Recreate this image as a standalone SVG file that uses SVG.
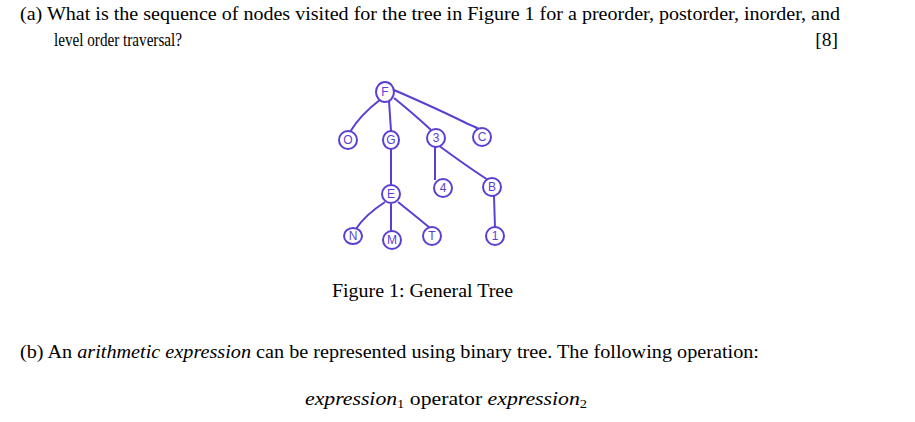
<svg xmlns="http://www.w3.org/2000/svg" width="915" height="422" viewBox="0 0 915 422">
<style>
.t{font-family:"Liberation Serif",serif;font-size:19.5px;fill:#000}
.n ellipse{fill:#fff;stroke:#5b3fd3;stroke-width:2}
.n text{font-family:"Liberation Sans",sans-serif;font-size:12px;fill:#5b3fd3;text-anchor:middle}
#edges path{stroke:#5b3fd3;stroke-width:2;fill:none}
</style>
<rect width="915" height="422" fill="#fff"/>
<text class="t" x="20" y="20" textLength="820" lengthAdjust="spacingAndGlyphs">(a)  What is the sequence of nodes visited for the tree in Figure 1 for a preorder, postorder, inorder, and</text>
<text class="t" x="54" y="46" textLength="128" lengthAdjust="spacingAndGlyphs">level order traversal?</text>
<text class="t" x="838" y="46" text-anchor="end">[8]</text>
<g id="edges">
<path d="M381,99 Q360,115 350,132"/>
<path d="M389,101 L391,131"/>
<path d="M394,98 Q415,115 431,130"/>
<path d="M394,90 Q440,110 468,124 Q478,128 480,130"/>
<path d="M391,149 L391,186"/>
<path d="M435,146 L435,180"/>
<path d="M438,145 Q465,165 488,180"/>
<path d="M385,202 Q365,215 356,229"/>
<path d="M391,204 L391,232"/>
<path d="M398,202 Q418,218 430,228"/>
<path d="M494,196 L495,228"/>
</g>
<g id="nF" class="n"><ellipse cx="385" cy="92" rx="9" ry="10"/><text x="385" y="96">F</text></g>
<g id="nO" class="n"><ellipse cx="348" cy="140" rx="9" ry="9"/><text x="348" y="144">O</text></g>
<g id="nG" class="n"><ellipse cx="391" cy="140" rx="8" ry="9"/><text x="391" y="144">G</text></g>
<g id="n3" class="n"><ellipse cx="436" cy="138" rx="9" ry="9"/><text x="436" y="142">3</text></g>
<g id="nC" class="n"><ellipse cx="482" cy="137" rx="9" ry="9"/><text x="482" y="141">C</text></g>
<g id="nE" class="n"><ellipse cx="391" cy="194" rx="9" ry="9"/><text x="391" y="198">E</text></g>
<g id="n4" class="n"><ellipse cx="443" cy="188" rx="9" ry="9"/><text x="443" y="192">4</text></g>
<g id="nB" class="n"><ellipse cx="492" cy="187" rx="9" ry="9"/><text x="492" y="191">B</text></g>
<g id="nN" class="n"><ellipse cx="353" cy="236" rx="9" ry="8"/><text x="353" y="240">N</text></g>
<g id="nM" class="n"><ellipse cx="392" cy="240" rx="9" ry="9"/><text x="392" y="244">M</text></g>
<g id="nT" class="n"><ellipse cx="432" cy="236" rx="9" ry="9"/><text x="432" y="240">T</text></g>
<g id="n1" class="n"><ellipse cx="495" cy="236" rx="9" ry="9"/><text x="495" y="240">1</text></g>
<text class="t" x="332" y="297" textLength="181" lengthAdjust="spacingAndGlyphs">Figure 1: General Tree</text>
<text class="t" x="20" y="358" textLength="739" lengthAdjust="spacingAndGlyphs">(b)  An <tspan font-style="italic">arithmetic expression</tspan> can be represented using binary tree. The following operation:</text>
<text class="t" x="305" y="405" textLength="282" lengthAdjust="spacingAndGlyphs"><tspan font-style="italic">expression</tspan><tspan font-size="13" dy="3">1</tspan><tspan dy="-3"> operator </tspan><tspan font-style="italic">expression</tspan><tspan font-size="13" dy="3">2</tspan></text>
</svg>
